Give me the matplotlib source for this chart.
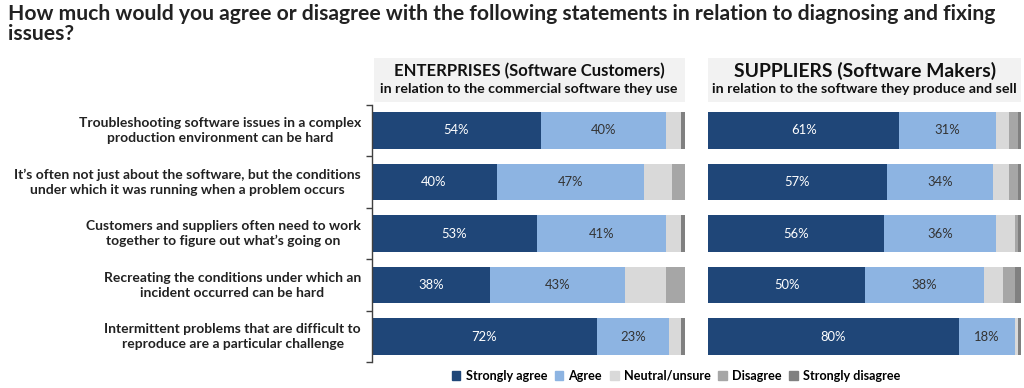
import matplotlib
matplotlib.use("Agg")
import matplotlib.pyplot as plt
from matplotlib.patches import Rectangle
import numpy as np

plt.rcParams['font.family'] = ['Lato', 'DejaVu Sans']

title = "How much would you agree or disagree with the following statements in relation to diagnosing and fixing\nissues?"
statements = [
    "Troubleshooting software issues in a complex\nproduction environment can be hard",
    "It\u2019s often not just about the software, but the conditions\nunder which it was running when a problem occurs",
    "Customers and suppliers often need to work\ntogether to figure out what\u2019s going on",
    "Recreating the conditions under which an\nincident occurred can be hard",
    "Intermittent problems that are difficult to\nreproduce are a particular challenge",
]
categories = ["Strongly agree", "Agree", "Neutral/unsure", "Disagree", "Strongly disagree"]
colors = ["#1f4678", "#8db4e2", "#d9d9d9", "#a6a6a6", "#808080"]

# Enterprises (software customers)
ent_strongly_agree = [54, 40, 53, 38, 72]
ent_agree = [40, 47, 41, 43, 23]
ent_neutral = [5, 9, 5, 13, 4]
ent_disagree = [0, 4, 0, 6, 0]
ent_strongly_disagree = [1, 0, 1, 0, 1]

# Suppliers (software makers)
sup_strongly_agree = [61, 57, 56, 50, 80]
sup_agree = [31, 34, 36, 38, 18]
sup_neutral = [4, 5, 6, 6, 1]
sup_disagree = [3, 3, 1, 4, 0]
sup_strongly_disagree = [1, 1, 1, 2, 1]

panel_titles = ["ENTERPRISES (Software Customers)", "SUPPLIERS (Software Makers)"]
panel_subtitles = ["in relation to the commercial software they use",
                   "in relation to the software they produce and sell"]

W, H = 1024, 388
fig = plt.figure(figsize=(W / 100, H / 100), dpi=100)
renderer = fig.canvas.get_renderer()

def fx(px):
    return px / W

def fy(py):
    return 1 - py / H

def fit(t, target_w):
    w = t.get_window_extent(renderer).width
    t.set_fontsize(t.get_fontsize() * target_w / w)
    return t.get_fontsize()

t = fig.text(fx(8), fy(4), title, ha='left', va='top', fontsize=13,
             fontweight='bold', color='#222222', linespacing=1.0)
fit(t, 990)

top_px, bot_px = 104.7, 362.3
panels = [
    (371.5, 684.5, [ent_strongly_agree, ent_agree, ent_neutral, ent_disagree, ent_strongly_disagree]),
    (708.3, 1021.3, [sup_strongly_agree, sup_agree, sup_neutral, sup_disagree, sup_strongly_disagree]),
]
title_w = [271, 262]
sub_w = [298, 304]

n = len(statements)
y = np.arange(n)
for pi, (x0, x1, series) in enumerate(panels):
    ax = fig.add_axes([fx(x0), fy(bot_px), fx(x1 - x0), (bot_px - top_px) / H])
    left = np.zeros(n)
    for si, vals in enumerate(series):
        vals = np.array(vals, dtype=float)
        ax.barh(y, vals, left=left, height=0.715, color=colors[si],
                edgecolor='none', label=categories[si])
        if si < 2:
            for yi, (l, v) in enumerate(zip(left, vals)):
                ax.text(l + v / 2, yi, f"{int(v)}%", ha='center', va='center',
                        fontsize=9.4, color='white' if si == 0 else '#333333')
        left += vals
    ax.set_xlim(0, 100)
    ax.set_ylim(n - 0.5, -0.5)
    ax.set_xticks([])
    for s in ['top', 'right', 'bottom']:
        ax.spines[s].set_visible(False)
    if pi == 0:
        ax.spines['left'].set_color('#404040')
        ax.spines['left'].set_linewidth(1.0)
        ax.set_yticks(np.arange(-0.5, n, 1.0))
        ax.set_yticklabels([])
        ax.tick_params(axis='y', length=4, width=1.0, color='#404040')
    else:
        ax.spines['left'].set_visible(False)
        ax.set_yticks([])
    bx0 = x0 + 2 if pi == 0 else x0
    fig.patches.append(Rectangle((fx(bx0), fy(102)), fx(x1 - bx0), (102 - 58) / H,
                                 transform=fig.transFigure, facecolor='#f2f2f2',
                                 edgecolor='none', zorder=0))
    cx = (bx0 + x1) / 2
    t1 = fig.text(fx(cx), fy(71), panel_titles[pi], ha='center', va='center',
                  fontsize=12, fontweight='bold', color='#111111')
    fit(t1, title_w[pi])
    t2 = fig.text(fx(cx), fy(89), panel_subtitles[pi], ha='center', va='center',
                  fontsize=9.3, fontweight='bold', color='#111111')
    fit(t2, sub_w[pi])

labels = []
for i, s in enumerate(statements):
    cy = (top_px + (i + 0.5) * (bot_px - top_px) / n)
    labels.append(fig.text(fx(361), fy(cy), s, ha='right', va='center', multialignment='center',
                           fontsize=9.6, fontweight='bold', color='#222222', linespacing=1.3))
size = fit(labels[1], 351)
for lb in labels:
    lb.set_fontsize(size)

handles = [Rectangle((0, 0), 1, 1, color=c) for c in colors]
leg = fig.legend(handles, categories, loc='center', bbox_to_anchor=(fx(676), fy(376)),
                 ncol=5, frameon=False, handlelength=0.7, handleheight=0.7,
                 handletextpad=0.4, columnspacing=0.6, prop={'weight': 'bold', 'size': 10})
lw = leg.get_window_extent(renderer).width
if lw > 470:
    leg.remove()
    leg = fig.legend(handles, categories, loc='center', bbox_to_anchor=(fx(676), fy(376)),
                     ncol=5, frameon=False, handlelength=0.7, handleheight=0.7,
                     handletextpad=0.4, columnspacing=0.6,
                     prop={'weight': 'bold', 'size': 10 * 460 / lw})

fig.savefig("out.png", dpi=100)
